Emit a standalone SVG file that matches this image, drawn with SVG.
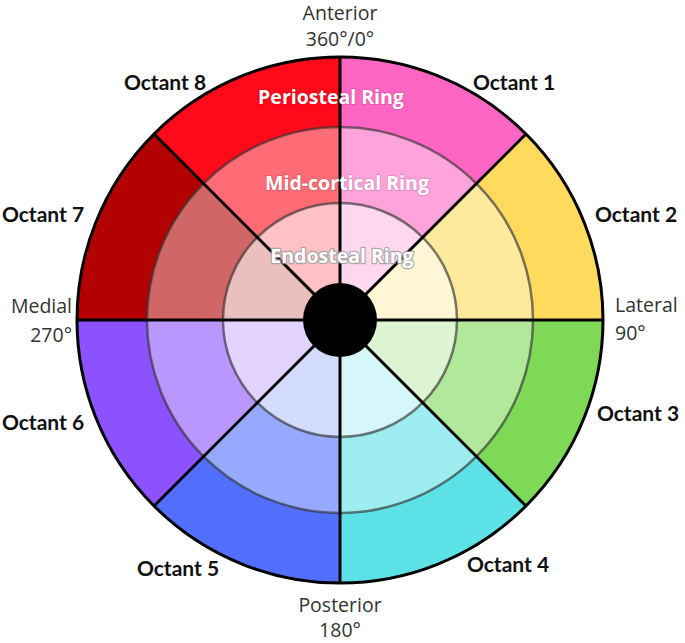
<svg xmlns="http://www.w3.org/2000/svg" width="685" height="643" viewBox="0 0 685 643">
<style>
.oct{font-family:Lato,"Open Sans","Liberation Sans",sans-serif;font-weight:bold;font-size:21px;fill:#111;}
.dir{font-family:"Open Sans","Liberation Sans",sans-serif;font-size:19.5px;fill:#333;}
.ring{font-family:"Open Sans","Liberation Sans",sans-serif;font-weight:bold;font-size:19.5px;fill:#fff;paint-order:stroke;stroke-linejoin:round;}
.div{stroke:#000;stroke-width:3;}
.band{stroke:#333;stroke-opacity:0.65;stroke-width:2.5;}
</style>
<g id="octants">
<g id="octant1"><path d="M340 320 L340 57 A263 263 0 0 1 525.97 134.03 Z" fill="#FF66C4"/></g>
<g id="octant2"><path d="M340 320 L525.97 134.03 A263 263 0 0 1 603 320 Z" fill="#FFDA5C"/></g>
<g id="octant3"><path d="M340 320 L603 320 A263 263 0 0 1 525.97 505.97 Z" fill="#7ED957"/></g>
<g id="octant4"><path d="M340 320 L525.97 505.97 A263 263 0 0 1 340 583 Z" fill="#5CE1E6"/></g>
<g id="octant5"><path d="M340 320 L340 583 A263 263 0 0 1 154.03 505.97 Z" fill="#5170FF"/></g>
<g id="octant6"><path d="M340 320 L154.03 505.97 A263 263 0 0 1 77 320 Z" fill="#8C52FF"/></g>
<g id="octant7"><path d="M340 320 L77 320 A263 263 0 0 1 154.03 134.03 Z" fill="#B30000"/></g>
<g id="octant8"><path d="M340 320 L154.03 134.03 A263 263 0 0 1 340 57 Z" fill="#FF0A1A"/></g>
</g>
<g id="mid-cortical"><circle cx="340" cy="320" r="193" fill="#fff" fill-opacity="0.4" class="band"/></g>
<g id="endosteal"><circle cx="340" cy="320" r="117" fill="#fff" fill-opacity="0.58" class="band"/></g>
<g id="connectors">
<line class="div" x1="340" y1="57" x2="340" y2="583"/>
<line class="div" x1="77" y1="320" x2="603" y2="320"/>
<line class="div" x1="154.03" y1="134.03" x2="525.97" y2="505.97"/>
<line class="div" x1="525.97" y1="134.03" x2="154.03" y2="505.97"/>
</g>
<g id="periosteal"><circle cx="340" cy="320" r="263" fill="none" stroke="#000" stroke-width="3"/></g>
<g id="canal"><circle cx="340" cy="320" r="37" fill="#000"/></g>
<g id="ring-labels">
<text class="ring" x="331" y="104" text-anchor="middle" stroke="#000" stroke-opacity="0.12" stroke-width="2">Periosteal Ring</text>
<text class="ring" x="347" y="190" text-anchor="middle" stroke="#000" stroke-opacity="0.12" stroke-width="2">Mid-cortical Ring</text>
<text class="ring" x="342" y="263" text-anchor="middle" stroke="#999" stroke-opacity="0.8" stroke-width="2.5">Endosteal Ring</text>
</g>
<g id="octant-labels">
<text class="oct" x="514" y="90" text-anchor="middle">Octant 1</text>
<text class="oct" x="636" y="222" text-anchor="middle">Octant 2</text>
<text class="oct" x="638" y="421" text-anchor="middle">Octant 3</text>
<text class="oct" x="508" y="572" text-anchor="middle">Octant 4</text>
<text class="oct" x="178" y="576" text-anchor="middle">Octant 5</text>
<text class="oct" x="43" y="430" text-anchor="middle">Octant 6</text>
<text class="oct" x="43" y="222" text-anchor="middle">Octant 7</text>
<text class="oct" x="165" y="90" text-anchor="middle">Octant 8</text>
</g>
<g id="direction-labels">
<text class="dir" x="340" y="20" text-anchor="middle">Anterior</text>
<text class="dir" x="340" y="46" text-anchor="middle">360°/0°</text>
<text class="dir" x="72" y="313" text-anchor="end">Medial</text>
<text class="dir" x="72" y="342" text-anchor="end">270°</text>
<text class="dir" x="615" y="312" text-anchor="start">Lateral</text>
<text class="dir" x="615" y="340" text-anchor="start">90°</text>
<text class="dir" x="340" y="612" text-anchor="middle">Posterior</text>
<text class="dir" x="340" y="637" text-anchor="middle">180°</text>
</g>
</svg>
